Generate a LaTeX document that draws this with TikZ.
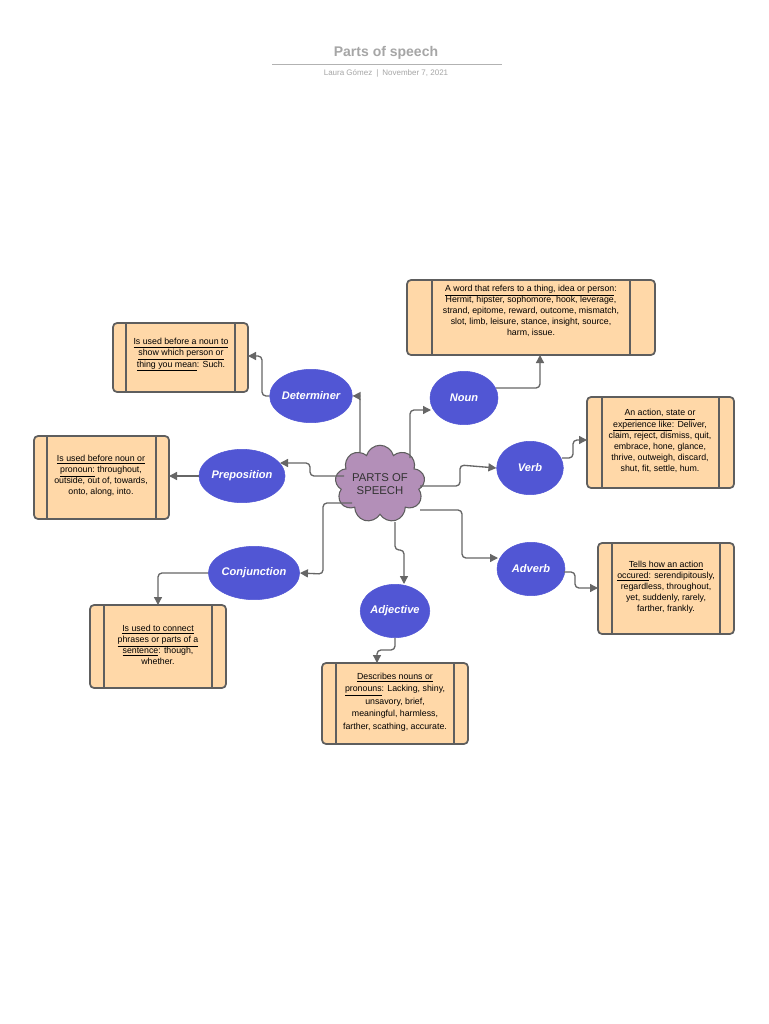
\documentclass[tikz,border=0pt]{standalone}
\usepackage{fontspec}
\setmainfont{Liberation Sans}
\usetikzlibrary{shapes.geometric,shapes.symbols,arrows.meta}
\definecolor{boxfill}{HTML}{FFD8A8}
\definecolor{boxline}{HTML}{5E5E5E}
\definecolor{ell}{HTML}{5156D4}
\definecolor{cloudc}{HTML}{B38FB8}
\definecolor{conn}{HTML}{666666}
\newcommand{\ul}[1]{\underline{#1}}
\begin{document}
\begin{tikzpicture}[x=0.75pt,y=-0.75pt,
  posn/.style={ellipse,fill=ell,draw=ell,text=white,font=\fontsize{8.3}{10}\selectfont\bfseries\itshape,inner sep=0,minimum height=40pt},
  btext/.style={align=center,font=\fontsize{6.6}{8.3}\selectfont,inner sep=0},
  con/.style={draw=conn,line width=1pt,rounded corners=3pt,-{Triangle[length=6pt,width=6pt]}}]
\useasboundingbox (0,0) rectangle (768,1024);
\fill[white] (0,0) rectangle (768,1024);
% title
\node[font=\fontsize{10.5}{12}\selectfont\bfseries,text=gray!70] (title) at (386,53) {Parts of speech};
\draw[gray!60,line width=0.6pt] (272,64) -- (502,64);
\node[font=\fontsize{6}{7}\selectfont,text=gray!70] (sub) at (386,73) {Laura Gómez\enspace|\enspace November 7, 2021};
% boxes
\newcommand{\bx}[6]{%
 \draw[boxline,fill=boxfill,line width=1.3pt,rounded corners=3pt] (#1,#2) rectangle (#3,#4);
 \draw[boxline,line width=1.3pt] (#1+#5,#2) -- (#1+#5,#4) (#3-#5,#2) -- (#3-#5,#4);
 \coordinate (#6) at ({(#1+#3)/2},{(#2+#4)/2});}
\bx{407}{280}{655}{355}{25}{nb}
\bx{113}{323}{248}{392}{13}{db}
\bx{34}{436}{169}{519}{13}{pb}
\bx{587}{397}{734}{488}{15}{vb}
\bx{598}{543}{734}{634}{14}{ab}
\bx{90}{605}{226}{688}{14}{cb}
\bx{322}{663}{468}{744}{14}{jb}
\node[btext] (nt) at (531,311) {\ul{A word that refers to a thing, idea or person}:\\Hermit, hipster, sophomore, hook, leverage,\\strand, epitome, reward, outcome, mismatch,\\slot, limb, leisure, stance, insight, source,\\harm, issue.};
\node[btext] (dt) at (181,355) {\ul{Is used before a noun to}\\\ul{show which person or}\\\ul{thing you mean}: Such.};
\node[btext] (pt) at (101,476) {\ul{Is used before noun or}\\\ul{pronoun:} throughout,\\outside, out of, towards,\\onto, along, into.};
\node[btext] (vt) at (660,441) {\ul{An action, state or}\\\ul{experience like}: Deliver,\\claim, reject, dismiss, quit,\\embrace, hone, glance,\\thrive, outweigh, discard,\\shut, fit, settle, hum.};
\node[btext] (at) at (666,587) {\ul{Tells how an action}\\\ul{occured}: serendipitously,\\regardless, throughout,\\yet, suddenly, rarely,\\farther, frankly.};
\node[btext] (ct) at (158,645) {\ul{Is used to connect}\\\ul{phrases or parts of a}\\\ul{sentence}: though,\\whether.};
\node[btext,font=\fontsize{6.6}{9.3}\selectfont] (jt) at (395,702) {\ul{Describes nouns or}\\\ul{pronouns}: Lacking, shiny,\\unsavory, brief,\\meaningful, harmless,\\farther, scathing, accurate.};
% ellipses
\node[posn,minimum width=60pt] (det) at (311,396) {Determiner};
\node[posn,minimum width=51pt] (noun) at (464,398) {Noun};
\node[posn,minimum width=50pt] (verb) at (530,468) {Verb};
\node[posn,minimum width=57pt] (prep) at (242,476) {Preposition};
\node[posn,minimum width=51pt] (adv) at (531,569) {Adverb};
\node[posn,minimum width=60pt] (conj) at (254,573) {Conjunction};
\node[posn,minimum width=51pt] (adj) at (395,611) {Adjective};
% cloud
\node[cloud,cloud puffs=9,aspect=1.3,fill=cloudc,draw=boxline,line width=0.8pt,minimum width=62pt,minimum height=52pt,align=center,font=\fontsize{8.5}{10}\selectfont,text=black!80,inner sep=0] (ps) at (380,484) {PARTS OF\\SPEECH};
% connectors
\draw[con] (360,452) -- (360,396) -- (det.east);
\draw[con] (det.west) -- (262,396) -- (262,356) -- (248,356);
\draw[con] (410,458) -- (410,410) -- (431,410);
\draw[con] (496,388) -- (540,388) -- (540,355);
\draw[con] (420,486) -- (460,486) -- (460,465) -- (verb.west);
\draw[con] (562,458) -- (573,458) -- (573,440) -- (587,440);
\draw[con] (344,476) -- (310,476) -- (310,463) -- (280,463);
\draw[con] (prep.west) -- (169,476);
\draw[con] (352,503) -- (323,503) -- (323,574) -- (conj.east);
\draw[con] (conj.west) -- (158,573) -- (158,605);
\draw[con] (395,522) -- (395,550) -- (404,550) -- (404,584);
\draw[con] (adj.south) -- (395,650) -- (377,650) -- (377,663);
\draw[con] (420,510) -- (462,510) -- (462,558) -- (498,558);
\draw[con] (564,572) -- (575,572) -- (575,588) -- (598,588);
\end{tikzpicture}
\end{document}
